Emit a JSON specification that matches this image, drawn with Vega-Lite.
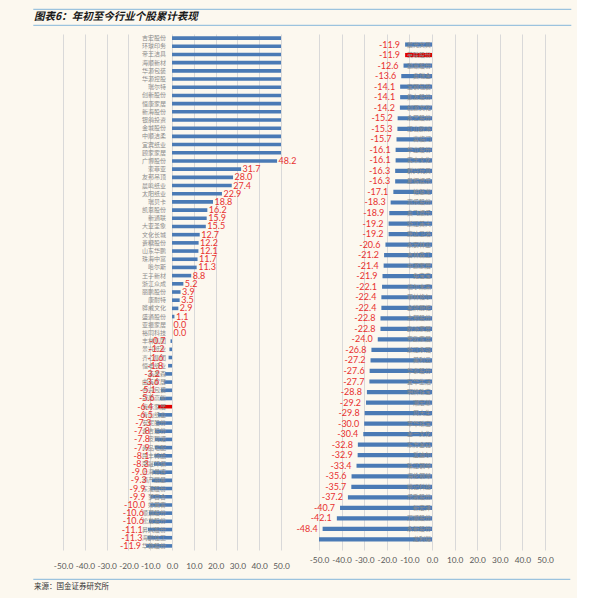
{
  "$schema": "https://vega.github.io/schema/vega-lite/v6.json",
  "background": "#FCF8EF",
  "padding": {"left": 32, "top": 8, "right": 5, "bottom": 2},
  "config": {
    "locale": {"number": {"decimal": ".", "thousands": ",", "grouping": [3], "currency": ["", ""], "minus": "-"}},
    "view": {"stroke": null},
    "axis": {"labelOverlap": false, "labelSeparation": 0, "labelFlush": false, "labelBound": false}
  },
  "spacing": 8,
  "vconcat": [
    {
      "width": 538, "height": 16,
      "view": {"stroke": "#9CC3DE", "strokeWidth": 1.2, "strokeDash": [538, 16, 538, 16]},
      "data": {"values": [{"t": "图表6：年初至今行业个股累计表现"}]},
      "mark": {"type": "text", "align": "left", "baseline": "middle", "dx": 1, "font": "Noto Sans CJK SC", "fontSize": 10.5, "fontWeight": "bold", "fontStyle": "italic", "color": "#1a1a1a"},
      "encoding": {
        "x": {"datum": 0, "type": "quantitative", "scale": {"domain": [0, 1]}, "axis": null},
        "text": {"field": "t"}
      }
    },
    {
      "hconcat": [
        {
          "width": 248, "height": 516,
          "data": {"values": [
            {"name": "吉宏股份", "v": 112.4}, {"name": "环球印务", "v": 98.7}, {"name": "帝王洁具", "v": 90.3},
            {"name": "海顺新材", "v": 85.1}, {"name": "华源包装", "v": 80.6}, {"name": "华源控股", "v": 76.2},
            {"name": "瑞尔特", "v": 71.8}, {"name": "创新股份", "v": 68.4}, {"name": "恒康家居", "v": 64.9},
            {"name": "新海股份", "v": 61.5}, {"name": "银鸽投资", "v": 58.3}, {"name": "金城股份", "v": 56.0},
            {"name": "中顺洁柔", "v": 54.2}, {"name": "宜宾纸业", "v": 52.7}, {"name": "顾家家居", "v": 51.3},
            {"name": "广博股份", "v": 48.2}, {"name": "索菲亚", "v": 31.7}, {"name": "友邦吊顶", "v": 28.0},
            {"name": "晨鸣纸业", "v": 27.4}, {"name": "太阳纸业", "v": 22.9}, {"name": "瑞贝卡", "v": 18.8},
            {"name": "凯恩股份", "v": 16.2}, {"name": "新通联", "v": 15.9}, {"name": "大亚圣象", "v": 15.5},
            {"name": "文化长城", "v": 12.7}, {"name": "贵糖股份", "v": 12.2}, {"name": "山东华鹏", "v": 12.1},
            {"name": "珠海中富", "v": 11.7}, {"name": "哈尔斯", "v": 11.3}, {"name": "王子新材", "v": 8.8},
            {"name": "浙江众成", "v": 5.2}, {"name": "丽鹏股份", "v": 3.9}, {"name": "康耐特", "v": 3.5},
            {"name": "骅威文化", "v": 2.9}, {"name": "盛通股份", "v": 1.1}, {"name": "亚振家居", "v": 0.0},
            {"name": "裕同科技", "v": 0.0}, {"name": "丰林集团", "v": -0.7}, {"name": "景兴纸业", "v": -1.2},
            {"name": "齐心集团", "v": -1.6}, {"name": "恒丰纸业", "v": -1.8}, {"name": "美盈森", "v": -3.2},
            {"name": "曲美家居", "v": -3.6}, {"name": "合兴包装", "v": -5.1}, {"name": "冠豪高新", "v": -5.6},
            {"name": "我乐家居", "v": -6.4}, {"name": "青山纸业", "v": -6.5}, {"name": "安妮股份", "v": -7.3},
            {"name": "永吉股份", "v": -7.8}, {"name": "皮阿诺", "v": -7.8}, {"name": "尚品宅配", "v": -7.9},
            {"name": "民丰特纸", "v": -8.1}, {"name": "荣晟环保", "v": -8.3}, {"name": "上海易连", "v": -9.0},
            {"name": "通产丽星", "v": -9.3}, {"name": "东港股份", "v": -9.9}, {"name": "梦百合", "v": -9.9},
            {"name": "好莱客", "v": -10.0}, {"name": "顺灏股份", "v": -10.6}, {"name": "松发股份", "v": -10.6},
            {"name": "昇兴股份", "v": -11.1}, {"name": "海鸥住工", "v": -11.3}, {"name": "华锋股份", "v": -11.9}
          ]},
          "encoding": {
            "y": {"field": "name", "type": "nominal", "sort": null, "axis": null, "scale": {"paddingInner": 0.56, "paddingOuter": 0.28}},
            "x": {"field": "v", "type": "quantitative",
              "scale": {"domain": [-63.8, 50], "clamp": true, "nice": false, "zero": false},
              "axis": {"values": [-50, -40, -30, -20, -10, 0, 10, 20, 30, 40, 50], "format": ".1f", "title": null,
                "grid": true, "gridColor": "#D9D9D9", "gridWidth": 1, "domain": false, "ticks": false, "tickSize": 0,
                "labelPadding": 11, "labelFontSize": 8.3, "labelColor": "#595959", "labelFont": "Liberation Sans Narrow, Lato, sans-serif",
                "labelFlush": false, "labelOverlap": false, "labelSeparation": 0}}
          },
          "layer": [
            {
              "mark": {"type": "bar"},
              "encoding": {
                "color": {"condition": {"test": "datum.name === '我乐家居'", "value": "#E00000"}, "value": "#4A7AB5"}
              }
            },
            {
              "mark": {"type": "text", "align": "right", "baseline": "middle", "dx": -6, "fontSize": 6, "font": "Noto Sans CJK SC", "color": "#8C8C8C"},
              "encoding": {"x": {"datum": 0, "type": "quantitative",
                "axis": {"values": [-50, -40, -30, -20, -10, 0, 10, 20, 30, 40, 50], "format": ".1f", "title": null,
                "grid": true, "gridColor": "#D9D9D9", "gridWidth": 1, "domain": false, "ticks": false, "tickSize": 0,
                "labelPadding": 11, "labelFontSize": 8.3, "labelColor": "#595959", "labelFont": "Liberation Sans Narrow, Lato, sans-serif",
                "labelFlush": false, "labelOverlap": false, "labelSeparation": 0}}, "text": {"field": "name"}}
            },
            {
              "transform": [{"filter": "datum.v >= 0 && datum.v < 50"}],
              "mark": {"type": "text", "align": "left", "baseline": "middle", "dx": 1.5, "fontSize": 9, "font": "Liberation Sans Narrow, Lato, sans-serif", "color": "#E8312F"},
              "encoding": {"text": {"field": "v", "type": "quantitative", "format": ".1f"}}
            },
            {
              "transform": [{"filter": "datum.v < 0 && datum.v > -50"}],
              "mark": {"type": "text", "align": "right", "baseline": "middle", "dx": -5, "fontSize": 9, "font": "Liberation Sans Narrow, Lato, sans-serif", "color": "#E8312F"},
              "encoding": {"text": {"field": "v", "type": "quantitative", "format": ".1f"}}
            }
          ]
        },
        {
          "width": 226, "height": 516,
          "data": {"values": [
            {"name": "晨光文具", "v": -11.9}, {"name": "英联股份", "v": -11.9}, {"name": "劲嘉股份", "v": -12.6},
            {"name": "奥瑞金", "v": -13.6}, {"name": "宝钢包装", "v": -14.1}, {"name": "集友股份", "v": -14.1},
            {"name": "创源文化", "v": -14.2}, {"name": "永艺股份", "v": -15.2}, {"name": "江山欧派", "v": -15.3},
            {"name": "喜临门", "v": -15.7}, {"name": "华立股份", "v": -16.1}, {"name": "实丰文化", "v": -16.1},
            {"name": "群兴玩具", "v": -16.3}, {"name": "星辉娱乐", "v": -16.3}, {"name": "柏堡龙", "v": -17.1},
            {"name": "高乐股份", "v": -18.3}, {"name": "奥飞娱乐", "v": -18.9}, {"name": "浙江美大", "v": -19.2},
            {"name": "惠达卫浴", "v": -19.2}, {"name": "永安林业", "v": -20.6}, {"name": "吉林森工", "v": -21.2},
            {"name": "中源家居", "v": -21.4}, {"name": "兔宝宝", "v": -21.9}, {"name": "德尔未来", "v": -22.1},
            {"name": "菲林格尔", "v": -22.4}, {"name": "金牌厨柜", "v": -22.4}, {"name": "志邦股份", "v": -22.8},
            {"name": "欧派家居", "v": -22.8}, {"name": "帝欧家居", "v": -24.0}, {"name": "浙江永强", "v": -26.8},
            {"name": "美利云", "v": -27.2}, {"name": "华泰股份", "v": -27.6}, {"name": "宜华生活", "v": -27.7},
            {"name": "明牌珠宝", "v": -28.8}, {"name": "潮宏基", "v": -29.2}, {"name": "周大生", "v": -29.8},
            {"name": "萃华珠宝", "v": -30.0}, {"name": "金一文化", "v": -30.4}, {"name": "东方金钰", "v": -32.8},
            {"name": "爱迪尔", "v": -32.9}, {"name": "珠江钢琴", "v": -33.4}, {"name": "海伦钢琴", "v": -35.6},
            {"name": "姚记科技", "v": -35.7}, {"name": "乐歌股份", "v": -37.2}, {"name": "新宏泽", "v": -40.7},
            {"name": "万顺股份", "v": -42.1}, {"name": "永新股份", "v": -48.4}, {"name": "龙利得", "v": -52.6}
          ]},
          "encoding": {
            "y": {"field": "name", "type": "nominal", "sort": null, "axis": null, "scale": {"paddingInner": 0.6, "paddingOuter": 0.8}},
            "x": {"field": "v", "type": "quantitative",
              "scale": {"domain": [-50, 50], "clamp": true, "nice": false, "zero": false},
              "axis": {"values": [-50, -40, -30, -20, -10, 0, 10, 20, 30, 40, 50], "format": ".1f", "title": null,
                "grid": true, "gridColor": "#D9D9D9", "gridWidth": 1, "domain": false, "ticks": false, "tickSize": 0,
                "labelPadding": 5, "labelFontSize": 8.3, "labelColor": "#595959", "labelFont": "Liberation Sans Narrow, Lato, sans-serif",
                "labelFlush": false, "labelOverlap": false, "labelSeparation": 0}}
          },
          "layer": [
            {
              "mark": {"type": "bar"},
              "encoding": {
                "color": {"condition": {"test": "datum.name === '英联股份'", "value": "#E00000"}, "value": "#4A7AB5"}
              }
            },
            {
              "mark": {"type": "text", "align": "right", "baseline": "middle", "dx": -1, "fontSize": 6, "font": "Noto Sans CJK SC", "color": "#8C8C8C"},
              "encoding": {"x": {"datum": 0, "type": "quantitative",
                "axis": {"values": [-50, -40, -30, -20, -10, 0, 10, 20, 30, 40, 50], "format": ".1f", "title": null,
                "grid": true, "gridColor": "#D9D9D9", "gridWidth": 1, "domain": false, "ticks": false, "tickSize": 0,
                "labelPadding": 5, "labelFontSize": 8.3, "labelColor": "#595959", "labelFont": "Liberation Sans Narrow, Lato, sans-serif",
                "labelFlush": false, "labelOverlap": false, "labelSeparation": 0}}, "text": {"field": "name"}}
            },
            {
              "transform": [{"filter": "datum.v < 0 && datum.v > -50"}],
              "mark": {"type": "text", "align": "right", "baseline": "middle", "dx": -5, "fontSize": 9, "font": "Liberation Sans Narrow, Lato, sans-serif", "color": "#E8312F"},
              "encoding": {"text": {"field": "v", "type": "quantitative", "format": ".1f"}}
            }
          ]
        }
      ],
      "spacing": 38,
      "bounds": "flush"
    },
    {
      "width": 537, "height": 16,
      "view": {"stroke": "#9CC3DE", "strokeWidth": 1.2, "strokeDash": [537, 3000]},
      "data": {"values": [{"t": "来源：国金证券研究所"}]},
      "mark": {"type": "text", "align": "left", "baseline": "middle", "dx": 1, "font": "Noto Sans CJK SC", "fontSize": 7.5, "color": "#333333"},
      "encoding": {
        "x": {"datum": 0, "type": "quantitative", "scale": {"domain": [0, 1]}, "axis": null},
        "text": {"field": "t"}
      }
    }
  ]
}
